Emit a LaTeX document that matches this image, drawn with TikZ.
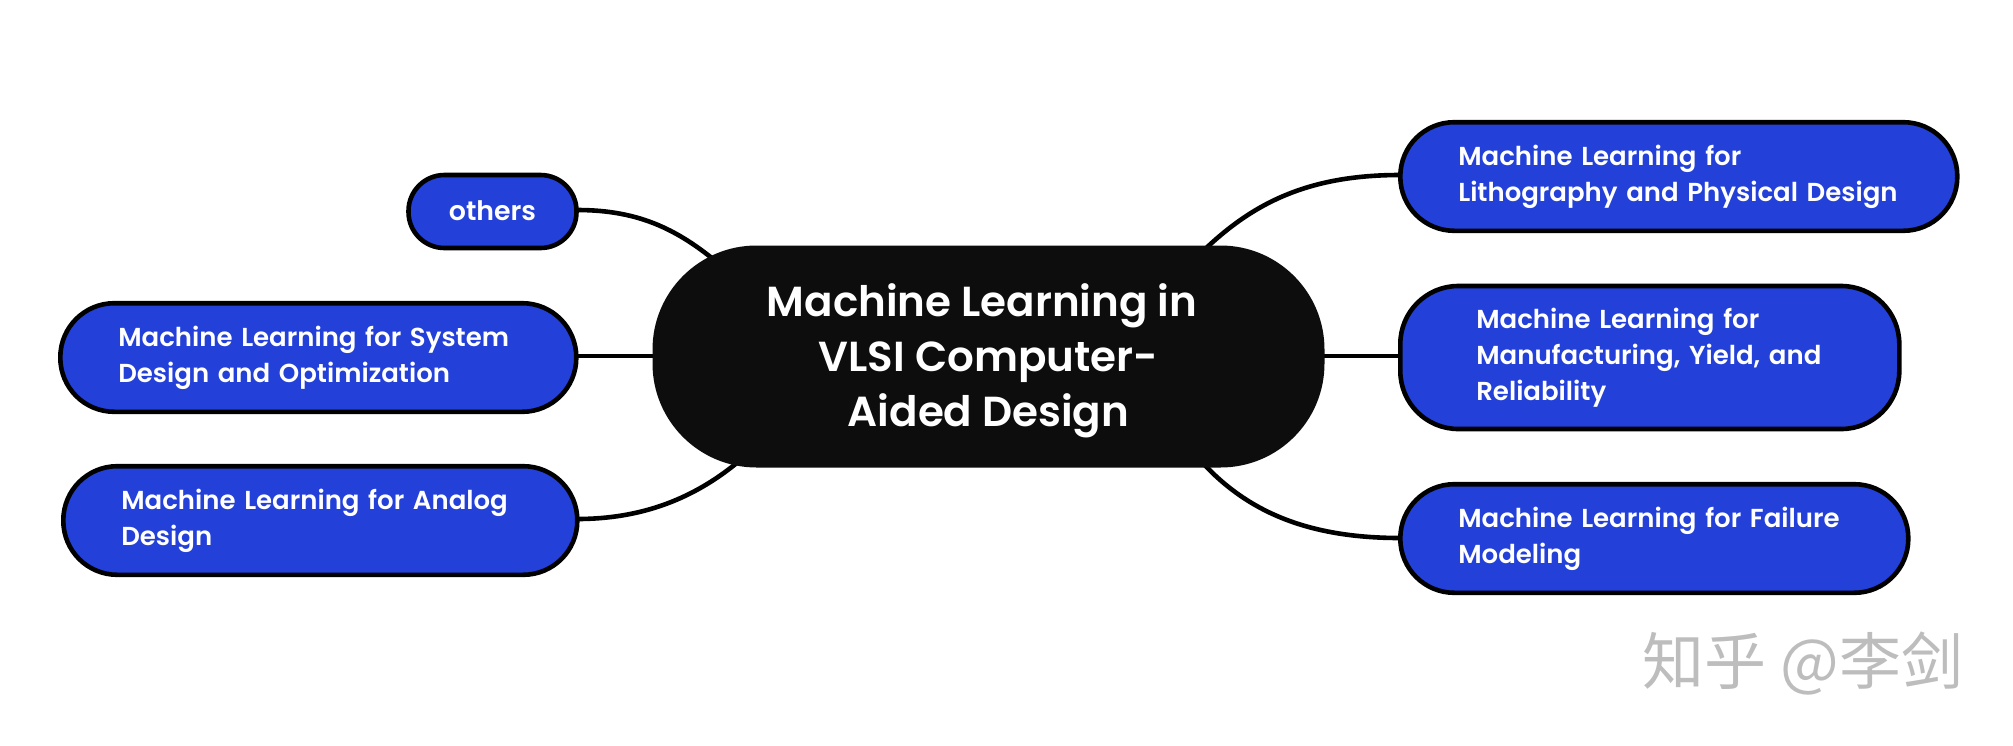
\documentclass[tikz,border=0pt]{standalone}
\usepackage{fontspec}
\setmainfont{Poppins}[BoldFont={Poppins SemiBold}]
\newfontfamily\cjkfont{Noto Sans CJK SC}
\definecolor{topicblue}{HTML}{2340D8}
\definecolor{rootblack}{HTML}{0D0D0D}
\definecolor{markgray}{HTML}{BDBDBD}
\tikzset{
  topicbox/.style={draw=black, line width=2.3pt, fill=topicblue, text=white, rounded corners=27pt,
    align=left, inner xsep=0pt, inner ysep=0pt, minimum height=54.3pt, font=\fontsize{13}{18}\selectfont\bfseries},
  rootbox/.style={fill=rootblack, text=white, rounded corners=52pt, align=center, inner sep=0pt,
    minimum width=336pt, minimum height=111pt, font=\fontsize{21}{27.5}\selectfont\bfseries},
  link/.style={draw=black, line width=2.3pt}
}
\begin{document}
\begin{tikzpicture}[x=0.5pt,y=-0.5pt]
  \useasboundingbox (0,0) rectangle (2013,745);
  % connectors first, boxes on top
  \coordinate (rootothers) at (725,269);
  \coordinate (rootanalog) at (745,456);
  \coordinate (rootlitho) at (1200,254);
  \coordinate (rootfail) at (1200,460);
  \coordinate (othersend) at (577,210);
  \coordinate (systemend) at (577,356);
  \coordinate (analogend) at (577,519);
  \coordinate (lithoend) at (1400,175);
  \coordinate (manufend) at (1400,356);
  \coordinate (failend) at (1400,538);
  \coordinate (rootleft) at (660,356);
  \coordinate (rootright) at (1320,356);
  \draw[link] (othersend) .. controls (640,210) and (680,230) .. (rootothers);
  \draw[link] (systemend) -- (rootleft);
  \draw[link] (analogend) .. controls (640,519) and (695,500) .. (rootanalog);
  \draw[link] (lithoend) .. controls (1305,175) and (1250,205) .. (rootlitho);
  \draw[link] (manufend) -- (rootright);
  \draw[link] (failend) .. controls (1305,538) and (1245,510) .. (rootfail);
  \node[rootbox] (root) at (988.5,356.5) {\rule{0pt}{20.5pt}Machine Learning in\hspace*{6.4pt}\\VLSI Computer-\\Aided Design};
  \node[topicbox, rounded corners=18pt, minimum height=36.5pt, minimum width=84pt, align=center] (others) at (492.5,211.5) {\raisebox{1.3pt}{\fontsize{13.4}{18}\selectfont others}};
  \node[topicbox, text width=258pt, anchor=west] (system) at (58,357.5)
    {\hspace{29pt}Machine Learning for System\\\hspace{29pt}Design and Optimization};
  \node[topicbox, text width=257pt, anchor=west] (analog) at (61,520.5)
    {\hspace{29pt}Machine Learning for Analog\\\hspace{29pt}Design};
  \node[topicbox, text width=278.5pt, anchor=west] (litho) at (1398,176.5)
    {\hspace{29pt}Machine Learning for\\\hspace{29pt}Lithography and Physical Design};
  \node[topicbox, text width=249.5pt, rounded corners=29pt, minimum height=71.5pt, anchor=west] (manuf) at (1398,357.5)
    {\hspace{38pt}Machine Learning for\\\hspace{38pt}Manufacturing, Yield, and\\\hspace{38pt}Reliability};
  \node[topicbox, text width=254pt, anchor=west] (fail) at (1398,538.5)
    {\hspace{29pt}Machine Learning for Failure\\\hspace{29pt}Modeling};
  \node[text=markgray, font=\cjkfont\fontsize{31}{31}\selectfont, inner sep=0pt] (mark) at (1803,664) {知乎 @李剑};
\end{tikzpicture}
\end{document}
